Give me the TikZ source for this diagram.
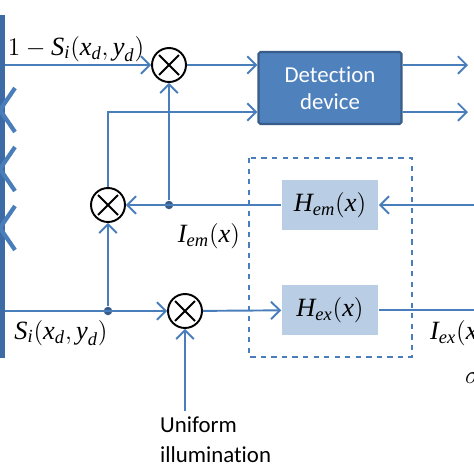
\documentclass[tikz,border=0pt]{standalone}
\usepackage{amsmath}
\usepackage{fontspec}
\setmainfont{Liberation Serif}
\newfontfamily\calib[Ligatures=NoCommon]{Carlito}
\newcommand\vv[1]{\textit{#1}}
\usetikzlibrary{arrows.meta,positioning}
\definecolor{wireblue}{HTML}{4A7EBB}
\definecolor{boxblue}{HTML}{4F81BD}
\definecolor{boxedge}{HTML}{385D8A}
\definecolor{paleblue}{HTML}{B9CDE5}
\definecolor{barblue}{HTML}{3D6BA6}
\tikzset{>={Straight Barb[length=5pt,width=10pt,line width=1.1pt]},
  every node/.style={font=\fontsize{15}{17}\selectfont},
  wire/.style={draw=wireblue,line width=1.1pt},
  mult/.style={circle,draw=black,line width=1.1pt,minimum size=.68cm,inner sep=0pt,
    path picture={\draw[line width=1.1pt]
      ([shift={(-.2cm,-.2cm)}]path picture bounding box.center)--++(.4cm,.4cm)
      ([shift={(-.2cm,.2cm)}]path picture bounding box.center)--++(.4cm,-.4cm);}},
  junct/.style={circle,fill=boxedge,inner sep=0pt,minimum size=.17cm},
  detector/.style={rectangle,fill=boxblue,draw=boxedge,line width=1.2pt,rounded corners=1pt,
    minimum width=2.86cm,minimum height=1.44cm,align=center,text=white,
    font=\calib\fontsize{13}{15.5}\selectfont},
  filt/.style={rectangle,fill=paleblue,minimum width=1.94cm,minimum height=1cm,inner sep=0pt},
  dashbox/.style={draw=wireblue,dashed,line width=1pt},
  xmark/.style={draw=wireblue,line width=2.4pt},
  plain/.style={font=\calib\fontsize{13}{17}\selectfont,align=left}}
\begin{document}
\begin{tikzpicture}[x=.02cm,y=-.02cm]
\useasboundingbox (0,0) rectangle (474,474);
% sample plane
\fill[barblue] (0,15) rectangle (5,358);
\foreach \yy in {110,169,228}
  \draw[xmark] (-15,\yy-22)--(15,\yy+22) (-15,\yy+22)--(15,\yy-22);
\coordinate (s1) at (5,65);\coordinate (s0) at (5,311);
% blocks
\node[mult] (m1) at (169,65) {};
\node[mult] (m2) at (108,205) {};
\node[mult] (m3) at (185,311) {};
\node[detector] (det) at (330,88) {Detection\\device};
\node[filt] (hem) at (330,205) {$\vv{H}_{\vv{em}}(\vv{x})$};
\node[filt] (hex) at (330,310) {$\vv{H}_{\vv{ex}}(\vv{x})$};
\draw[dashbox] (249,158) rectangle (412,357);
\node[junct] (j1) at (169,205) {};
\node[junct] (j2) at (108,311) {};
\coordinate (o1) at (468,65);\coordinate (o2) at (468,112);
\coordinate (em) at (474,205);\coordinate (ex) at (474,310);\coordinate (ill) at (185,411);
% connectors
\draw[wire,->] (s1)--(m1);\draw[wire,->] (m1)--(m1-|det.west);
\draw[wire,->] (m2.north)|-([yshift=-.48cm]det.west);
\draw[wire,->] (det.east|-o1)--(o1);\draw[wire,->] ([yshift=-.48cm]det.east)--(o2);
\draw[wire,->] (em)--(hem);\draw[wire,->] (hem)--(m2);\draw[wire,->] (j1)--(m1);
\draw[wire,->] (s0)--(m3);\draw[wire,->] (j2)--(m2);\draw[wire,->] (m3)--(hex);
\draw[wire] (hex)--(ex);\draw[wire,->] (ill)--(m3);
% labels
\node (ltop) at (76,49) {$1-\vv{S}_{\vv{i}}(\vv{x}_{\vv{d}},\vv{y}_{\vv{d}})$};
\node (lbot) at (61,333) {$\vv{S}_{\vv{i}}(\vv{x}_{\vv{d}},\vv{y}_{\vv{d}})$};
\node (lem) at (209,236) {$\vv{I}_{\vv{em}}(\vv{x})$};
\node[anchor=west] (lex) at (424,333) {$\vv{I}_{\vv{ex}}(\vv{x})$};
\node[anchor=west] (lsig) at (459,378) {$\sigma$};
\node[plain,anchor=north west] (lill) at (154,411) {Uniform\\illumination};
\end{tikzpicture}
\end{document}
